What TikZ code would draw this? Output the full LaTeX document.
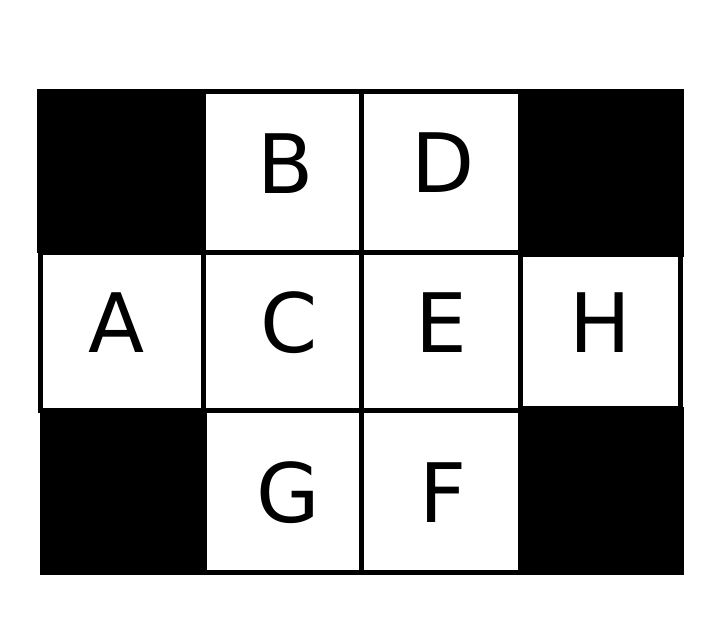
\documentclass[tikz,border=0pt]{standalone}
\usepackage{fontspec}
\setmainfont{DejaVu Sans}
\begin{document}
\begin{tikzpicture}[x=1pt,y=-1pt,
  cellbox/.style={draw=black,line width=5pt,fill=white},
  darkbox/.style={draw=black,line width=5pt,fill=black},
  letter/.style={font=\fontsize{82}{90}\selectfont,inner sep=0pt}]
\useasboundingbox (0,0) rectangle (720,619);
% white cells
\draw[cellbox] (203,91) rectangle (361,252);
\draw[cellbox] (361,91) rectangle (520,252);
\draw[cellbox] (40,252) rectangle (203,410);
\draw[cellbox] (203,252) rectangle (361,410);
\draw[cellbox] (361,252) rectangle (520,410);
\draw[cellbox] (520,254) rectangle (680,408);
\draw[cellbox] (203,410) rectangle (361,572);
\draw[cellbox] (361,410) rectangle (520,572);
% black corner cells
\draw[darkbox] (39,91) rectangle (202,250);
\draw[darkbox] (521,91) rectangle (681,254);
\draw[darkbox] (42,410) rectangle (204,572);
\draw[darkbox] (520,409) rectangle (681,572);
% letters
\node[letter] (B) at (286,164) {B};
\node[letter] (D) at (443,163) {D};
\node[letter] (A) at (117,323) {A};
\node[letter] (C) at (289,323) {C};
\node[letter] (E) at (441,323) {E};
\node[letter] (H) at (600,323) {H};
\node[letter] (G) at (288,493) {G};
\node[letter] (F) at (443,493) {F};
\end{tikzpicture}
\end{document}
